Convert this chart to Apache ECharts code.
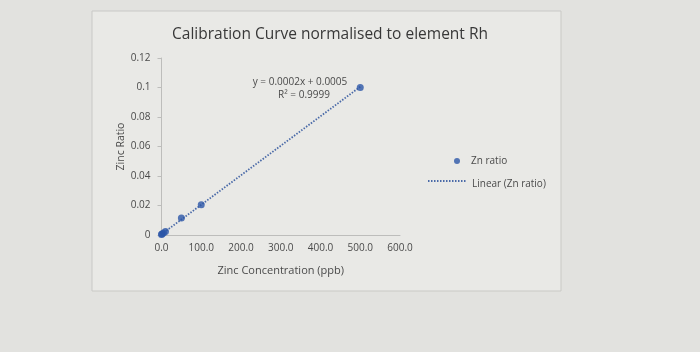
<!DOCTYPE html>
<html><head><meta charset="utf-8">
<script src="https://cdn.jsdelivr.net/npm/echarts@6/dist/echarts.min.js"></script>
<style>html,body{margin:0;padding:0;background:#e2e2df;}#c{width:700px;height:352px;}</style>
</head><body><div id="c"></div>
<script>
const concentration = [0, 1, 5, 10, 50, 100, 500];
const znRatio = [0.0003, 0.0007, 0.0014, 0.0024, 0.0115, 0.0205, 0.1];
const trendX = [0, 500];
const trendY = [0.0005, 0.1005];
const xTickLabels = ['0.0', '100.0', '200.0', '300.0', '400.0', '500.0', '600.0'];
const yTickLabels = ['0', '0.02', '0.04', '0.06', '0.08', '0.1', '0.12'];
const titleText = 'Calibration Curve normalised to element Rh';
const equationText = 'y = 0.0002x + 0.0005';
const r2Text = 'R² = 0.9999';

const font = 'Open Sans';
const chart = echarts.init(document.getElementById('c'), null, {renderer: 'canvas'});
chart.setOption({
  animation: false,
  backgroundColor: '#e2e2df',
  graphic: [
    {type: 'rect', z: -10, shape: {x: 92, y: 11, width: 469, height: 280},
     style: {fill: '#e9e9e6', stroke: '#c9c9c6', lineWidth: 1}},
    {type: 'text', x: 300, y: 77, style: {text: equationText, align: 'center', font: '10px ' + font, fill: '#4a4a4a'}},
    {type: 'text', x: 304, y: 90, style: {text: r2Text, align: 'center', font: '10px ' + font, fill: '#4a4a4a'}},
    {type: 'line', shape: {x1: 428, y1: 181, x2: 466, y2: 181},
     style: {stroke: '#4a6aa8', lineWidth: 1.8, lineDash: [1.5, 1.5]}}
  ],
  title: {text: titleText, left: 325, top: 22, textAlign: 'center',
    textStyle: {fontFamily: font, fontSize: 15.5, fontWeight: 'normal', color: '#383838'}},
  grid: {left: 161.5, right: 300, top: 58, bottom: 117, containLabel: false},
  xAxis: {type: 'value', min: 0, max: 600, interval: 100,
    name: 'Zinc Concentration (ppb)', nameLocation: 'middle', nameGap: 30,
    nameTextStyle: {fontFamily: font, fontSize: 11, color: '#4a4a4a'},
    axisLine: {lineStyle: {color: '#bdbdbb'}}, axisTick: {show: false},
    splitLine: {show: false},
    axisLabel: {fontFamily: font, fontSize: 10, color: '#4a4a4a', margin: 8,
      formatter: v => xTickLabels[Math.round(v / 100)]}},
  yAxis: {type: 'value', min: 0, max: 0.12, interval: 0.02,
    name: 'Zinc Ratio', nameLocation: 'middle', nameGap: 35, nameRotate: 90,
    nameTextStyle: {fontFamily: font, fontSize: 10.5, color: '#4a4a4a'},
    axisLine: {show: true, lineStyle: {color: '#bdbdbb'}},
    axisTick: {show: true, length: 4, lineStyle: {color: '#bdbdbb'}},
    splitLine: {show: false},
    axisLabel: {fontFamily: font, fontSize: 10, color: '#4a4a4a', margin: 11,
      formatter: v => yTickLabels[Math.round(v / 0.02)]}},
  legend: [
    {data: ['Zn ratio'], left: 449, top: 151, orient: 'vertical', icon: 'circle',
     itemWidth: 6, itemHeight: 6,
     textStyle: {fontFamily: font, fontSize: 10, color: '#4a4a4a', padding: [0, 0, 0, 6]}},
    {data: [{name: 'Linear (Zn ratio)', icon: 'rect', itemStyle: {opacity: 0}}], left: 424, top: 174, orient: 'vertical',
     itemWidth: 38, itemHeight: 8,
     textStyle: {fontFamily: font, fontSize: 10, color: '#4a4a4a'}}
  ],
  series: [
    {name: 'Linear (Zn ratio)', type: 'line', symbol: 'none', z: 1,
     data: trendX.map((x, i) => [x, trendY[i]]),
     lineStyle: {color: '#4a6aa8', width: 1.8, type: [1.5, 1.5]},
     itemStyle: {color: '#4a6aa8'}},
    {name: 'Zn ratio', type: 'scatter', symbol: 'circle', symbolSize: 7, z: 3,
     data: concentration.map((x, i) => [x, znRatio[i]]),
     itemStyle: {color: '#2c56a8'}}
  ]
});
</script></body></html>
